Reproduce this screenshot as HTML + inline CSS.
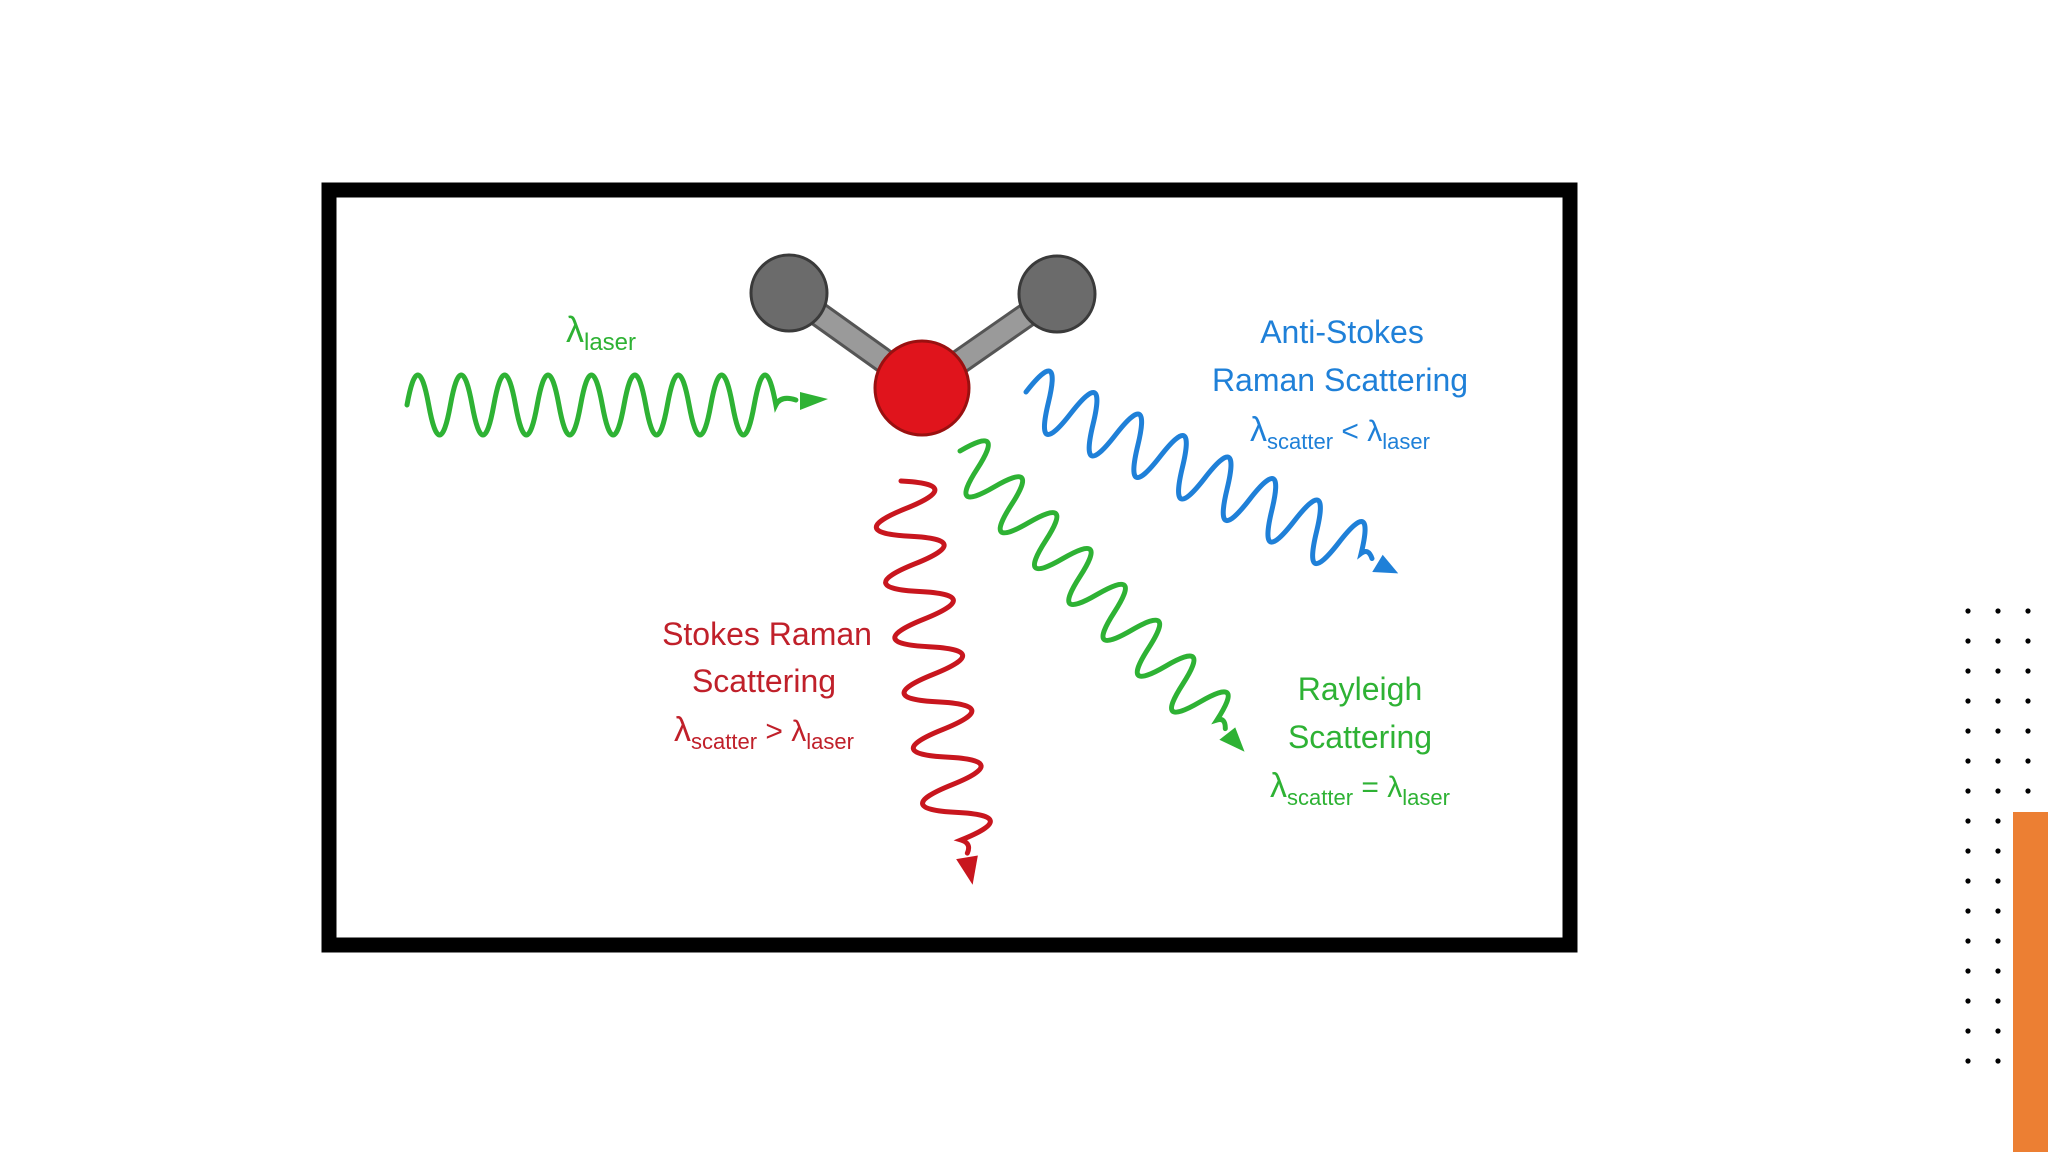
<!DOCTYPE html>
<html><head><meta charset="utf-8"><style>
html,body{margin:0;padding:0;background:#fff;}
body{width:2048px;height:1152px;position:relative;overflow:hidden;font-family:"Liberation Sans",sans-serif;}
</style></head><body>
<svg width="2048" height="1152" viewBox="0 0 2048 1152" style="position:absolute;left:0;top:0">
<rect x="329" y="190" width="1241" height="755" fill="#fff" stroke="#000" stroke-width="15"/>
<line x1="789" y1="293" x2="922" y2="388" stroke="#555" stroke-width="26"/>
<line x1="789" y1="293" x2="922" y2="388" stroke="#9a9a9a" stroke-width="20"/>
<line x1="1057" y1="294" x2="922" y2="388" stroke="#555" stroke-width="26"/>
<line x1="1057" y1="294" x2="922" y2="388" stroke="#9a9a9a" stroke-width="20"/>
<circle cx="789" cy="293" r="38" fill="#6b6b6b" stroke="#3a3a3a" stroke-width="3"/>
<circle cx="1057" cy="294" r="38" fill="#6b6b6b" stroke="#3a3a3a" stroke-width="3"/>
<circle cx="922" cy="388" r="47" fill="#e0141c" stroke="#9a1010" stroke-width="3"/>
<g fill="none" stroke-width="5" stroke-linecap="round">
<g transform="translate(407,405)">
<path stroke="#2eb234" d="M0 0 q10.8 -60 21.7 0 t21.7 0 t21.7 0 t21.7 0 t21.7 0 t21.7 0 t21.7 0 t21.7 0 t21.7 0 t21.7 0 t21.7 0 t21.7 0 t21.7 0 t21.7 0 t21.7 0 t21.7 0 t21.7 0 q5 -10 20 -5"/>
<polygon fill="#2eb234" stroke="none" points="800,392 828,399 800,410" transform="translate(-407,-405)"/>
</g>
<g transform="translate(1026,392) rotate(25.7)">
<path stroke="#1f80d8" d="M0 0 q12.4 -58 24.8 0 t24.8 0 t24.8 0 t24.8 0 t24.8 0 t24.8 0 t24.8 0 t24.8 0 t24.8 0 t24.8 0 t24.8 0 t24.8 0 t24.8 0 t24.8 0 t24.8 0 q4 -8 12 0"/>
<polygon fill="#1f80d8" stroke="none" points="392,-8 414,2 390,12"/>
</g>
<g transform="translate(960,451) rotate(46.3)">
<path stroke="#2eb234" d="M0 0 q12.4 -52 24.8 0 t24.8 0 t24.8 0 t24.8 0 t24.8 0 t24.8 0 t24.8 0 t24.8 0 t24.8 0 t24.8 0 t24.8 0 t24.8 0 t24.8 0 t24.8 0 t24.8 0 q4 -8 12 0"/>
<polygon fill="#2eb234" stroke="none" points="390,-8 414,2 388,12"/>
</g>
<g transform="translate(901,481) rotate(80.5)">
<path stroke="#c8161e" d="M0 0 q14 -64 28 0 t28 0 t28 0 t28 0 t28 0 t28 0 t28 0 t28 0 t28 0 t28 0 t28 0 t28 0 t28 0 q5 -10 14 -4"/>
<polygon fill="#c8161e" stroke="none" points="382,-14 410,-4 382,8"/>
</g>
</g>
<g font-family="Liberation Sans,sans-serif" text-anchor="middle" font-size="32">
<text x="601" y="342" fill="#2eb234" font-size="36">λ<tspan font-size="24" dy="8">laser</tspan></text>
<g fill="#1f80d8">
<text x="1342" y="343">Anti-Stokes</text>
<text x="1340" y="391">Raman Scattering</text>
<text x="1340" y="441" font-size="34">λ<tspan font-size="22" dy="8">scatter</tspan><tspan dy="-8" font-size="30"> &lt; λ</tspan><tspan font-size="22" dy="8">laser</tspan></text>
</g>
<g fill="#c0202a">
<text x="767" y="645">Stokes Raman</text>
<text x="764" y="692">Scattering</text>
<text x="764" y="741" font-size="34">λ<tspan font-size="22" dy="8">scatter</tspan><tspan dy="-8" font-size="30"> &gt; λ</tspan><tspan font-size="22" dy="8">laser</tspan></text>
</g>
<g fill="#2eb234">
<text x="1360" y="700">Rayleigh</text>
<text x="1360" y="748">Scattering</text>
<text x="1360" y="797" font-size="34">λ<tspan font-size="22" dy="8">scatter</tspan><tspan dy="-8" font-size="30"> = λ</tspan><tspan font-size="22" dy="8">laser</tspan></text>
</g>
</g>
<g fill="#000">
<circle cx="1968" cy="611" r="2.6"/><circle cx="1998" cy="611" r="2.6"/><circle cx="2028" cy="611" r="2.6"/>
<circle cx="1968" cy="641" r="2.6"/><circle cx="1998" cy="641" r="2.6"/><circle cx="2028" cy="641" r="2.6"/>
<circle cx="1968" cy="671" r="2.6"/><circle cx="1998" cy="671" r="2.6"/><circle cx="2028" cy="671" r="2.6"/>
<circle cx="1968" cy="701" r="2.6"/><circle cx="1998" cy="701" r="2.6"/><circle cx="2028" cy="701" r="2.6"/>
<circle cx="1968" cy="731" r="2.6"/><circle cx="1998" cy="731" r="2.6"/><circle cx="2028" cy="731" r="2.6"/>
<circle cx="1968" cy="761" r="2.6"/><circle cx="1998" cy="761" r="2.6"/><circle cx="2028" cy="761" r="2.6"/>
<circle cx="1968" cy="791" r="2.6"/><circle cx="1998" cy="791" r="2.6"/><circle cx="2028" cy="791" r="2.6"/>
<circle cx="1968" cy="821" r="2.6"/><circle cx="1998" cy="821" r="2.6"/>
<circle cx="1968" cy="851" r="2.6"/><circle cx="1998" cy="851" r="2.6"/>
<circle cx="1968" cy="881" r="2.6"/><circle cx="1998" cy="881" r="2.6"/>
<circle cx="1968" cy="911" r="2.6"/><circle cx="1998" cy="911" r="2.6"/>
<circle cx="1968" cy="941" r="2.6"/><circle cx="1998" cy="941" r="2.6"/>
<circle cx="1968" cy="971" r="2.6"/><circle cx="1998" cy="971" r="2.6"/>
<circle cx="1968" cy="1001" r="2.6"/><circle cx="1998" cy="1001" r="2.6"/>
<circle cx="1968" cy="1031" r="2.6"/><circle cx="1998" cy="1031" r="2.6"/>
<circle cx="1968" cy="1061" r="2.6"/><circle cx="1998" cy="1061" r="2.6"/>
</g>
<rect x="2013" y="812" width="35" height="340" fill="#ec7f33"/>
</svg>
</body></html>
